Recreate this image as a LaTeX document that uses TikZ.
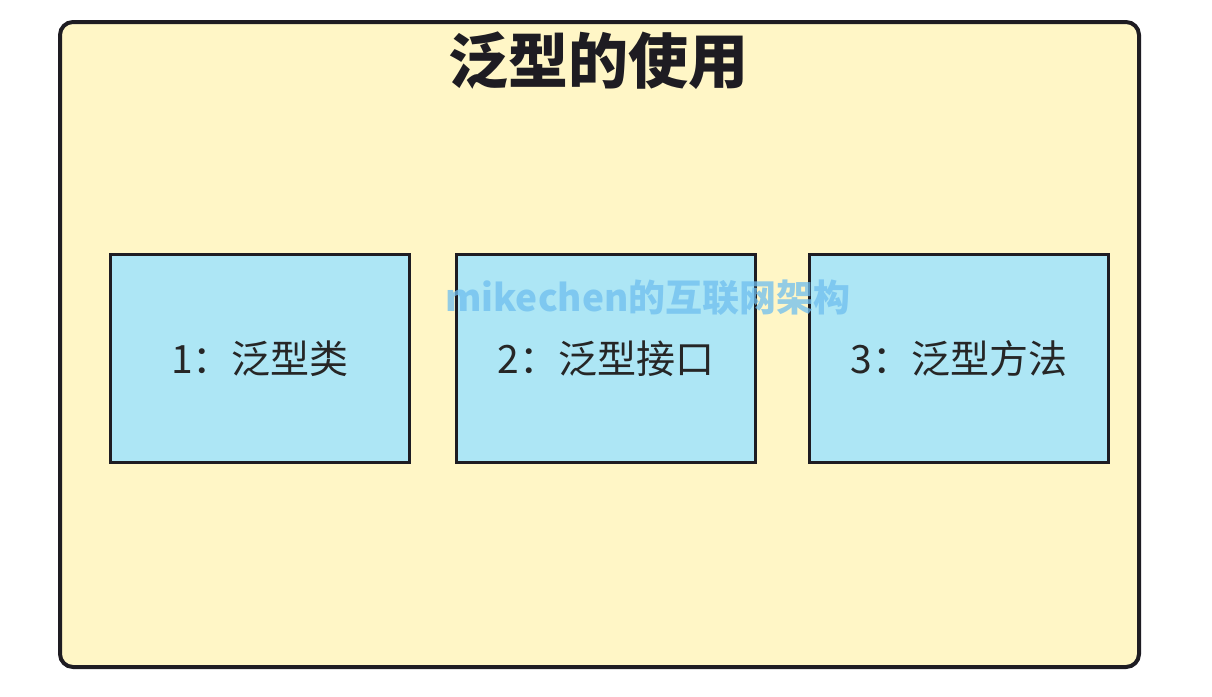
\documentclass[tikz,border=0pt]{standalone}
\usepackage{fontspec}
\newfontfamily\cjk{Noto Sans CJK SC}
\usepackage{tikz}
\usetikzlibrary{positioning}
\definecolor{paneyellow}{HTML}{FFF6C6}
\definecolor{boxblue}{HTML}{ADE6F5}
\definecolor{edgeblack}{HTML}{1E1C22}
\definecolor{markblue}{HTML}{6FBEEF}
\tikzset{
  frame/.style={draw=edgeblack, line width=4pt, fill=paneyellow, rounded corners=13pt},
  usage/.style={draw=edgeblack, line width=3.6pt, fill=boxblue, minimum width=299pt,
    minimum height=208pt, inner sep=0pt, font=\cjk\fontsize{39}{44}\selectfont, text=black!85},
}
\begin{document}
\begin{tikzpicture}[x=1pt, y=-1pt]
\useasboundingbox (0,0) rectangle (1212,696);
\fill[white] (0,0) rectangle (1212,696);

\draw[frame] (60,22) rectangle (1139,667);
\node[font=\cjk\bfseries\fontsize{60}{64}\selectfont, text=edgeblack] (title) at (598,61) {泛型的使用};

\node[usage] (class) at (260,358.5) {1：泛型类};
\node[usage] (iface) at (606,358.5) {2：泛型接口};
\node[usage] (method) at (959,358.5) {3：泛型方法};

% watermark
\node[font=\cjk\bfseries\fontsize{37}{40}\selectfont, text=markblue, opacity=0.75] (mark) at (648,298) {mikechen的互联网架构};

\end{tikzpicture}
\end{document}
